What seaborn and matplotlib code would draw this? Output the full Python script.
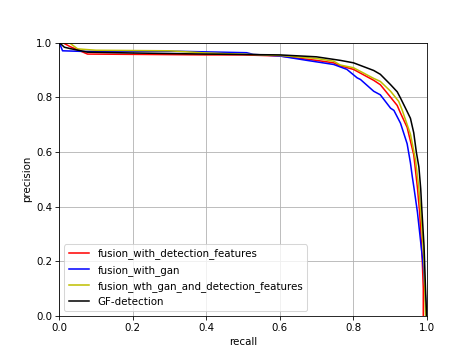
import matplotlib
matplotlib.use("Agg")
import matplotlib.pyplot as plt
import pandas as pd
import seaborn as sns

# precision / recall points
labels = [
    "fusion_with_detection_features",
    "fusion_with_gan",
    "fusion_wth_gan_and_detection_features",
    "GF-detection",
]
colors = ["r", "b", "y", "k"]

red_recall = [0.0, 0.009, 0.03, 0.077, 0.2, 0.4, 0.5, 0.6, 0.7, 0.747, 0.765, 0.801,
              0.856, 0.874, 0.902, 0.92, 0.929, 0.947, 0.952, 0.965, 0.975, 0.981,
              0.988, 0.991, 0.991]
red_precision = [1.0, 1.0, 0.985, 0.958, 0.957, 0.955, 0.955, 0.951, 0.935, 0.926, 0.915,
                 0.902, 0.862, 0.846, 0.80, 0.77, 0.742, 0.69, 0.662, 0.59, 0.47, 0.38,
                 0.21, 0.10, 0.0]

blue_recall = [0.0, 0.009, 0.059, 0.2, 0.33, 0.51, 0.528, 0.6, 0.674, 0.747, 0.783,
               0.811, 0.82, 0.856, 0.874, 0.902, 0.911, 0.929, 0.947, 0.956, 0.961,
               0.966, 0.975, 0.988, 0.993, 1.0]
blue_precision = [1.0, 0.97, 0.968, 0.968, 0.968, 0.963, 0.957, 0.951, 0.935, 0.92, 0.902,
                  0.871, 0.865, 0.822, 0.809, 0.76, 0.752, 0.705, 0.63, 0.56, 0.51,
                  0.465, 0.38, 0.22, 0.15, 0.0]

yellow_recall = [0.0, 0.027, 0.05, 0.1, 0.3, 0.4, 0.6, 0.7, 0.747, 0.765, 0.801, 0.856,
                 0.874, 0.902, 0.924, 0.933, 0.956, 0.970, 0.979, 0.986, 0.993, 0.997]
yellow_precision = [1.0, 1.0, 0.977, 0.972, 0.970, 0.962, 0.953, 0.942, 0.932, 0.918,
                    0.908, 0.869, 0.858, 0.822, 0.785, 0.755, 0.665, 0.57, 0.465, 0.35,
                    0.2, 0.0]

black_recall = [0.0, 0.014, 0.03, 0.077, 0.2, 0.4, 0.6, 0.7, 0.765, 0.801, 0.856, 0.874,
                0.902, 0.92, 0.929, 0.947, 0.956, 0.965, 0.972, 0.979, 0.984, 0.987,
                0.993, 0.997, 1.0]
black_precision = [1.0, 0.983, 0.978, 0.965, 0.962, 0.958, 0.955, 0.948, 0.935, 0.926,
                   0.898, 0.884, 0.846, 0.82, 0.797, 0.748, 0.723, 0.67, 0.60, 0.545,
                   0.465, 0.39, 0.256, 0.1, 0.0]

curves = [
    (red_recall, red_precision),
    (blue_recall, blue_precision),
    (yellow_recall, yellow_precision),
    (black_recall, black_precision),
]

frames = []
for label, (rec, prec) in zip(labels, curves):
    frames.append(pd.DataFrame({"recall": rec, "precision": prec, "model": label}))
df = pd.concat(frames, ignore_index=True)

fig, ax = plt.subplots(figsize=(474 / 74, 355 / 74), dpi=74)

sns.lineplot(
    data=df,
    x="recall",
    y="precision",
    hue="model",
    hue_order=labels,
    palette=dict(zip(labels, colors)),
    sort=False,
    estimator=None,
    linewidth=1.5,
    ax=ax,
)

ax.set_xlim(0, 1)
ax.set_ylim(0, 1)
ax.set_xticks([0.0, 0.2, 0.4, 0.6, 0.8, 1.0])
ax.set_yticks([0.0, 0.2, 0.4, 0.6, 0.8, 1.0])
ax.grid(True)
ax.set_xlabel("recall")
ax.set_ylabel("precision")
ax.legend(loc="lower left")

plt.savefig("out.png", dpi=74)
